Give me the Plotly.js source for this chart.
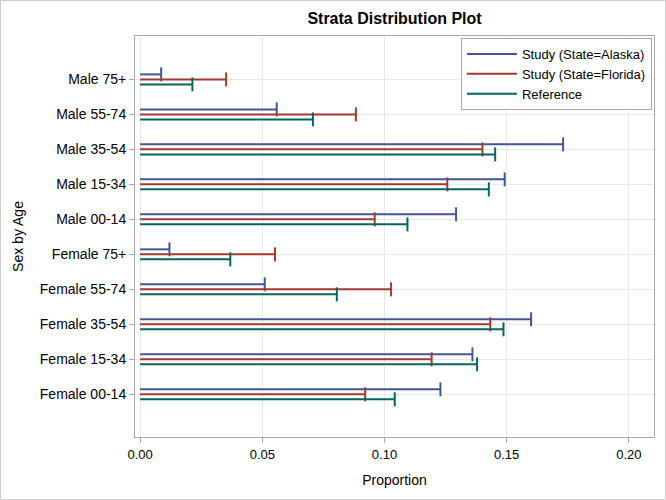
<!DOCTYPE html>
<html>
<head>
<meta charset="utf-8">
<script src="https://cdn.plot.ly/plotly-3.0.1.min.js"></script>
<style>
html,body{margin:0;padding:0;background:#fff;}
#chart{width:666px;height:500px;}
</style>
</head>
<body>
<div id="chart"></div>
<script>
// Categories (bottom to top)
var categories = ["Female 00-14","Female 15-34","Female 35-54","Female 55-74","Female 75+",
                  "Male 00-14","Male 15-34","Male 35-54","Male 55-74","Male 75+"];
var seriesNames = ["Study (State=Alaska)","Study (State=Florida)","Reference"];
var alaska    = [0.1229, 0.1360, 0.1600, 0.0510, 0.0120, 0.1293, 0.1492, 0.1731, 0.0559, 0.0086];
var florida   = [0.0921, 0.1193, 0.1433, 0.1027, 0.0552, 0.0960, 0.1257, 0.1401, 0.0883, 0.0352];
var reference = [0.1042, 0.1379, 0.1487, 0.0805, 0.0369, 0.1094, 0.1427, 0.1453, 0.0707, 0.0214];
var xTicks = [0, 0.05, 0.10, 0.15, 0.20];
var xTickText = ["0.00","0.05","0.10","0.15","0.20"];

var colors = ["#445694","#A23A2E","#01665E"];
var offsets = [0.143, 0, -0.143];
var allSeries = [alaska, florida, reference];

var traces = [];
allSeries.forEach(function(vals, s){
  var lx = [], ly = [], cx = [], cy = [];
  vals.forEach(function(v, i){
    var yy = i + offsets[s];
    lx.push(0, v, null); ly.push(yy, yy, null);
    cx.push(v); cy.push(yy);
  });
  traces.push({
    type:"scatter", mode:"lines", x:lx, y:ly, name:seriesNames[s],
    line:{color:colors[s], width:2}, hoverinfo:"skip", legendrank: s+1
  });
  traces.push({
    type:"scatter", mode:"markers", x:cx, y:cy, showlegend:false,
    marker:{symbol:"line-ns", size:10, line:{color:colors[s], width:2}, color:colors[s]},
    hoverinfo:"skip"
  });
});

var font = "Liberation Sans, Arial, sans-serif";
var pw = 519, ph = 401, ml = 135, mr = 12, mt = 36, mb = 63;

var layout = {
  width:666, height:500,
  margin:{l:ml, r:mr, t:mt, b:mb, pad:0},
  paper_bgcolor:"#fff", plot_bgcolor:"#fff",
  font:{family:font, size:13, color:"#000"},
  title:{text:"<b>Strata Distribution Plot</b>", x:0.5, xref:"paper", y:1-18/500, yref:"container",
         yanchor:"middle", font:{family:font, size:16, color:"#000"}},
  xaxis:{range:[-0.0021, 0.2103], tickvals:xTicks, ticktext:xTickText, showgrid:true,
         gridcolor:"#e8e8e8", gridwidth:1, zeroline:false, showline:true, mirror:true,
         linecolor:"#a8a8a8", linewidth:1, ticks:"outside", ticklen:5, tickcolor:"#a8a8a8",
         tickfont:{size:13, color:"#000"},
         title:{text:"Proportion", font:{size:14, color:"#000"}, standoff:14}},
  yaxis:{range:[-1.22, 10.24], tickvals:categories.map(function(c,i){return i;}), ticktext:categories,
         showgrid:true, gridcolor:"#e8e8e8", gridwidth:1, zeroline:false, showline:true, mirror:true,
         linecolor:"#a8a8a8", linewidth:1, ticks:"outside", ticklen:5, tickcolor:"#a8a8a8",
         tickfont:{size:14, color:"#000"},
         title:{text:"Sex by Age", font:{size:14, color:"#000"}, standoff:12}},
  legend:{x:0.996, y:0.995, xanchor:"right", yanchor:"top", bgcolor:"#fff",
          bordercolor:"#a8a8a8", borderwidth:1, font:{size:13, color:"#000"},
          itemwidth:50, tracegroupgap:0, traceorder:"normal"},
  shapes:[{type:"rect", xref:"paper", yref:"paper",
           x0:(-ml+0.5)/pw, x1:1+(mr-0.5)/pw, y0:(-mb+0.5)/ph, y1:1+(mt-0.5)/ph,
           line:{color:"#cccccc", width:1}, fillcolor:"rgba(0,0,0,0)", layer:"above"}],
  showlegend:true
};

Plotly.newPlot("chart", traces, layout, {displayModeBar:false, staticPlot:true});
</script>
</body>
</html>
